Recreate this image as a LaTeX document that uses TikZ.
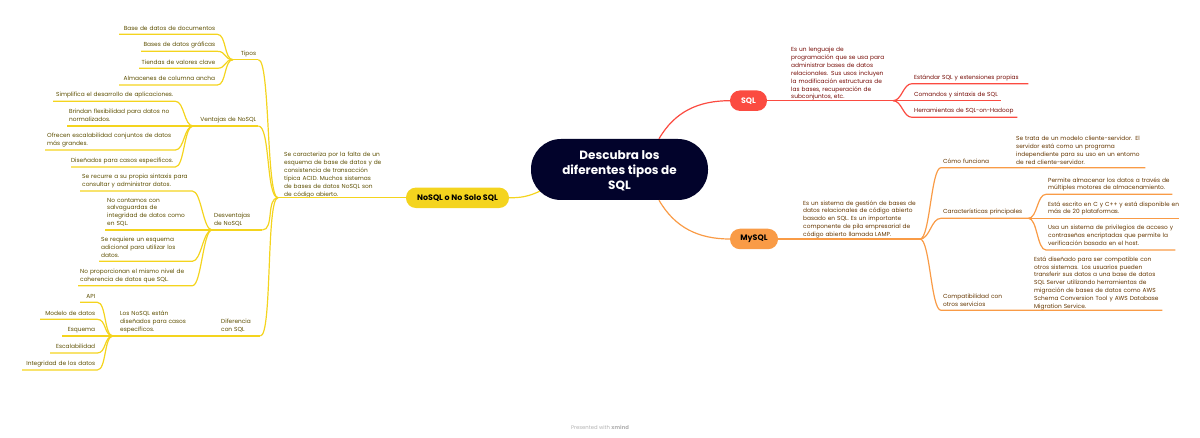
\documentclass[tikz,border=0pt]{standalone}
\usepackage{fontspec}
\setmainfont{Poppins}
\usetikzlibrary{calc}
\definecolor{nosqlc}{HTML}{F4D41E}
\definecolor{sqlc}{HTML}{FB4B41}
\definecolor{mysqlc}{HTML}{F99B46}
\definecolor{nosqlt}{HTML}{5C4E00}
\definecolor{sqlt}{HTML}{750B05}
\definecolor{mysqlt}{HTML}{643600}
\definecolor{rootc}{HTML}{02032B}
\tikzstyle{leaf}=[anchor=south west,
                align=left,
                inner xsep=2pt,
                inner ysep=2.6pt,
                font=\fontsize{5.85}{7.9}\selectfont,
                execute at begin node={\hyphenpenalty=10000 \rightskip=0pt plus 100pt minus 20pt},
                execute at end node={\vrule width 0pt depth 1.4pt}]
\tikzstyle{rleaf}=[leaf, align=right,
                execute at begin node={\hyphenpenalty=10000 \rightskip=0pt \leftskip=0pt plus 100pt minus 20pt}]
\tikzstyle{topic}=[shape=rectangle,
                rounded corners=10pt,
                minimum height=20.5pt,
                inner xsep=0pt,
                font=\fontsize{7.9}{9}\selectfont\bfseries]
\tikzstyle{ylink}=[nosqlc, line width=1.2pt]
\tikzstyle{rlink}=[sqlc, line width=1.2pt]
\tikzstyle{olink}=[mysqlc, line width=1.2pt]

\begin{document}
\begin{tikzpicture}[x=1pt, y=-1pt]
\useasboundingbox (0,0) rectangle (1200,438);

% central topic
\node[shape=rectangle, fill=rootc, text=white, rounded corners=30pt, minimum width=177pt, minimum height=61pt,
      align=center, inner sep=0pt, font=\fontsize{12}{15}\selectfont\bfseries] (root) at (619.5,169.5)
      {\rule{0pt}{10.5pt}Descubra los\\diferentes tipos de\\SQL};

% main topics
\node[topic, fill=nosqlc, text=black, minimum width=103pt] (nosql) at (457.5,197.8) {NoSQL o No Solo SQL};
\node[topic, fill=sqlc, text=white, minimum width=37pt] (sql) at (748.5,100.7) {SQL};
\node[topic, fill=mysqlc, text=black, minimum width=48pt] (mysql) at (754,239) {MySQL};

% hubs
\coordinate (nosqlhub) at (278,197.8);
\coordinate (difhub) at (113,336);
\coordinate (sqlhub) at (893,100.7);
\coordinate (mysqlhub) at (920,239);

% notes on the main topics
\node[leaf, inner ysep=0pt, text width=102pt, text=nosqlt] (nosqlnote) at (282,197.8) {Se caracteriza por la falta de un\\esquema de base de datos y de\\consistencia de transacción\\típica ACID. Muchos sistemas\\de bases de datos NoSQL son\\de código abierto.};
\node[leaf, inner ysep=0pt, text width=102pt, text=sqlt] (sqlnote) at (789,100.7) {Es un lenguaje de\\programación que se usa para\\administrar bases de datos\\relacionales. Sus usos incluyen\\la modificación estructuras de\\las bases, recuperación de\\subconjuntos, etc.};
\node[leaf, inner ysep=0.6pt, text width=116pt, text=mysqlt] (mysqlnote) at (801,239) {Es un sistema de gestión de bases de\\datos relacionales de código abierto\\basado en SQL. Es un importante\\componente de pila empresarial de\\código abierto llamada LAMP.};

% NoSQL branches
\node[rleaf, text width=21pt, text=nosqlt] (tipos) at (233,59.7) {Tipos};
\node[rleaf, text width=61pt, text=nosqlt] (ventajas) at (193,126) {Ventajas de NoSQL};
\node[leaf, text width=46pt, text=nosqlt] (desv) at (212,230) {Desventajas\\de NoSQL};
\node[leaf, text width=37pt, text=nosqlt] (dif) at (219,336) {Diferencia\\con SQL};
\node[leaf, text width=68pt, text=nosqlt] (difnote) at (118,336) {Los NoSQL están\\diseñados para casos\\específicos.};

% Tipos
\node[rleaf, text width=94pt, text=nosqlt] (t1) at (119,34.3) {Base de datos de documentos};
\node[rleaf, text width=72pt, text=nosqlt] (t2) at (141,51.3) {Bases de datos gráficas};
\node[rleaf, text width=74pt, text=nosqlt] (t3) at (139,68.3) {Tiendas de valores clave};
\node[rleaf, text width=94pt, text=nosqlt] (t4) at (119,85) {Almacenes de columna ancha};

% Ventajas
\node[rleaf, text width=118pt, text=nosqlt] (v1) at (53,101.3) {Simplifica el desarrollo de aplicaciones.};
\node[leaf, text width=104pt, text=nosqlt] (v2) at (67,126) {Brindan flexibilidad para datos no\\normalizados.};
\node[leaf, text width=126pt, text=nosqlt] (v3) at (45,150) {Ofrecen escalabilidad conjuntos de datos\\más grandes.};
\node[rleaf, text width=100pt, text=nosqlt] (v4) at (71,167) {Diseñados para casos específicos.};

% Desventajas
\node[leaf, text width=108pt, text=nosqlt] (d1) at (80,191) {Se recurre a su propia sintaxis para\\consultar y administrar datos.};
\node[leaf, text width=83pt, text=nosqlt] (d2) at (105,230) {No contamos con\\salvaguardas de\\integridad de datos como\\en SQL.};
\node[leaf, text width=89pt, text=nosqlt] (d3) at (99,261.3) {Se requiere un esquema\\adicional para utilizar los\\datos.};
\node[leaf, text width=110pt, text=nosqlt] (d4) at (78,285.7) {No proporcionan el mismo nivel de\\coherencia de datos que SQL.};

% Diferencia
\node[rleaf, text width=13pt, text=nosqlt] (e1) at (80,302.3) {API};
\node[rleaf, text width=53pt, text=nosqlt] (e2) at (40,319.3) {Modelo de datos};
\node[rleaf, text width=31pt, text=nosqlt] (e3) at (62,336) {Esquema};
\node[rleaf, text width=43pt, text=nosqlt] (e4) at (50,353) {Escalabilidad};
\node[rleaf, text width=71pt, text=nosqlt] (e5) at (22,370) {Integridad de los datos};

% SQL leaves
\node[leaf, text width=112pt, text=sqlt] (s1) at (912,83.7) {Estándar SQL y extensiones propias};
\node[leaf, text width=85pt, text=sqlt] (s2) at (912,100.7) {Comandos y sintaxis de SQL};
\node[leaf, text width=101pt, text=sqlt] (s3) at (912,117.3) {Herramientas de SQL-on-Hadoop};

% MySQL branches
\node[leaf, text width=70pt, text=mysqlt] (cf) at (941,167.7) {Cómo funciona};
\node[leaf, inner ysep=1.6pt, text width=127pt, text=mysqlt] (cfnote) at (1014,167.7) {Se trata de un modelo cliente-servidor. El\\servidor está como un programa\\independiente para su uso en un entorno\\de red cliente-servidor.};
\node[leaf, text width=83pt, text=mysqlt] (cp) at (941,218.3) {Características principales};
\node[leaf, text width=87pt, text=mysqlt] (co) at (941,310.3) {Compatibilidad con\\otros servicios};
\node[leaf, inner ysep=0pt, text width=126pt, text=mysqlt] (conote) at (1032,310.3) {Está diseñado para ser compatible con\\otros sistemas. Los usuarios pueden\\transferir sus datos a una base de datos\\SQL Server utilizando herramientas de\\migración de bases de datos como AWS\\Schema Conversion Tool y AWS Database\\Migration Service.};

% Caracteristicas
\node[leaf, text width=122pt, text=mysqlt] (c1) at (1046,194.3) {Permite almacenar los datos a través de\\múltiples motores de almacenamiento.};
\node[leaf, text width=129pt, text=mysqlt] (c2) at (1046,218.3) {Está escrito en C y C++ y está disponible en\\más de 20 plataformas.};
\node[leaf, text width=125pt, text=mysqlt] (c3) at (1046,250) {Usa un sistema de privilegios de acceso y\\contraseñas encriptadas que permite la\\verificación basada en el host.};

% paths to central topic
\draw[ylink] (nosql.east) to[out=0, in=205] ($(root.south west)+(9,-9)$);
\draw[rlink] ($(root.north)+(39.5,0)$) to[out=60, in=180] (sql.west);
\draw[olink] ($(root.south)+(39.5,0)$) to[out=-60, in=180] (mysql.west);

% NoSQL paths
\draw[ylink] (nosql.west) -- (nosqlhub);
\draw[ylink] (nosqlhub) to[out=180, in=0, distance=12pt] (tipos.south east);
\draw[ylink] (nosqlhub) to[out=180, in=0, distance=12pt] (ventajas.south east);
\draw[ylink] (nosqlhub) to[out=180, in=0, distance=12pt] (desv.south east);
\draw[ylink] (nosqlhub) to[out=180, in=0, distance=12pt] (dif.south east);
\draw[ylink] (tipos.south east) -- (tipos.south west);
\draw[ylink] (ventajas.south east) -- (ventajas.south west);
\draw[ylink] (desv.south east) -- (desv.south west);
\draw[ylink] (dif.south east) -- (difhub);

\foreach \n in {t1,t2,t3,t4} {
  \draw[ylink] (tipos.south west) to[out=180, in=0, distance=9pt] (\n.south east) -- (\n.south west);
}
\foreach \n in {v1,v2,v3,v4} {
  \draw[ylink] (ventajas.south west) to[out=180, in=0, distance=9pt] (\n.south east) -- (\n.south west);
}
\foreach \n in {d1,d2,d3,d4} {
  \draw[ylink] (desv.south west) to[out=180, in=0, distance=9pt] (\n.south east) -- (\n.south west);
}
\foreach \n in {e1,e2,e3,e4,e5} {
  \draw[ylink] (difhub) to[out=180, in=0, distance=9pt] (\n.south east) -- (\n.south west);
}

% SQL paths
\draw[rlink] (sql.east) -- (sqlhub);
\foreach \n in {s1,s2,s3} {
  \draw[rlink] (sqlhub) to[out=0, in=180, distance=9pt] (\n.south west) -- (\n.south east);
}

% MySQL paths
\draw[olink] (mysql.east) -- (mysqlhub);
\draw[olink] (mysqlhub) to[out=0, in=180, distance=10pt] (cf.south west) -- (cfnote.south east);
\draw[olink] (mysqlhub) to[out=0, in=180, distance=10pt] (cp.south west) -- (cp.south east);
\draw[olink] (mysqlhub) to[out=0, in=180, distance=10pt] (co.south west) -- (conote.south east);
\foreach \n in {c1,c2,c3} {
  \draw[olink] (cp.south east) to[out=0, in=180, distance=9pt] (\n.south west) -- (\n.south east);
}

% footer
\node[text=black!30, font=\fontsize{5.3}{7}\selectfont] (footer) at (600,427) {Presented with \textbf{xmind}};

\end{tikzpicture}
\end{document}
